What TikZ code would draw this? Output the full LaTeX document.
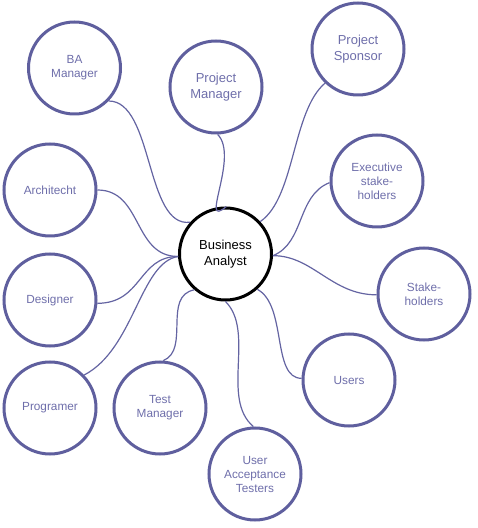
\documentclass[tikz,border=0pt]{standalone}
\usepackage{fontspec}
\setmainfont{Liberation Sans}
\definecolor{ringc}{HTML}{5F5F9E}
\definecolor{textc}{HTML}{6E6EAA}
\definecolor{linec}{HTML}{6464A2}
\begin{document}
\begin{tikzpicture}[x=1pt,y=1pt,
  sat/.style={circle,draw=ringc,line width=3pt,minimum size=92pt,inner sep=0pt,
    align=center,text=textc,font=\fontsize{11.8}{14}\selectfont},
  bigsat/.style={sat,font=\fontsize{13}{15.5}\selectfont},
  hub/.style={circle,draw=black,line width=3pt,minimum size=92pt,inner sep=0pt,
    align=center,text=black,font=\fontsize{13}{15.5}\selectfont},
  link/.style={draw=linec,line width=1.2pt}]
\useasboundingbox (0,0) rectangle (478,528);
\node[hub] (c) at (225.5,274) {Business\\Analyst};
\node[sat] (ba) at (74.5,460) {BA\\Manager};
\node[bigsat] (pm) at (216,441) {Project\\Manager};
\node[bigsat] (ps) at (358,479) {Project\\Sponsor};
\node[sat] (ex) at (377,347) {Executive\\stake-\\holders};
\node[sat] (st) at (424,234) {Stake-\\holders};
\node[sat] (us) at (349,148) {Users};
\node[sat] (uat) at (255,54) {User\\Acceptance\\Testers};
\node[sat] (tm) at (160,120) {Test\\Manager};
\node[sat] (pr) at (50,120) {Programer};
\node[sat] (de) at (50,228) {Designer};
\node[sat] (ar) at (50,338) {Architecht};
\path[link] (ba.-44) .. controls +(45,0) and +(-45,-6) .. (c.138);
\path[link] (pm.-88) .. controls +(22,-22) and +(-28,-24) .. (c.89);
\path[link] (ps.-134) .. controls +(-33,-28) and +(35,24) .. (c.43);
\path[link] (ex.182) .. controls +(-33,-13) and +(32,13) .. (c.-2);
\path[link] (c.-2) .. controls +(40,0) and +(-45,0) .. (st.181);
\path[link] (ar.0) .. controls +(45,0) and +(-45,0) .. (c.183);
\path[link] (de.-4) .. controls +(45,0) and +(-40,0) .. (c.183);
\path[link] (pr.44) .. controls +(50,26) and +(-38,-6) .. (c.183);
\path[link] (tm.86) .. controls +(27,11) and +(-32,-6) .. (c.-131);
\path[link] (uat.92) .. controls +(-33,28) and +(30,-30) .. (c.-90);
\path[link] (c.-48) .. controls +(30,-16) and +(-30,0) .. (us.178);
\end{tikzpicture}
\end{document}
